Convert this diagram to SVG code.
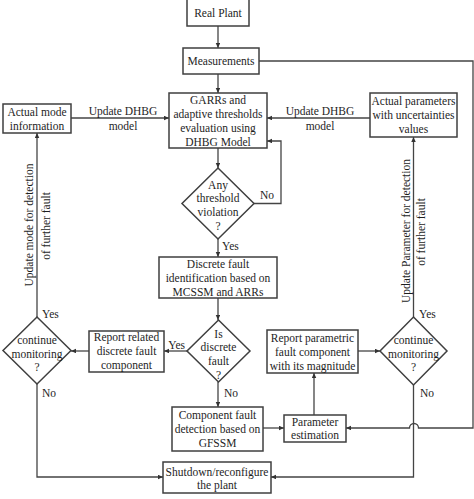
<svg xmlns="http://www.w3.org/2000/svg" width="474" height="499" viewBox="0 0 474 499">
<style>
.box{fill:#fff;stroke:#3f3f3f;stroke-width:1.5}
.ln{fill:none;stroke:#444;stroke-width:1.3}
.t{font-family:"Liberation Serif","Times New Roman",serif;font-size:11.5px;fill:#1e1e1e;text-anchor:middle}
.s{text-anchor:start}
.e{text-anchor:end}
</style>
<defs>
<marker id="ah" markerUnits="userSpaceOnUse" markerWidth="6" markerHeight="5" refX="5" refY="2.25" orient="auto">
<path d="M0,0 L5,2.25 L0,4.5 z" fill="#333"/>
</marker>
</defs>
<rect width="474" height="499" fill="#fff"/>
<g id="connectors">
<path class="ln" d="M218,26 V48" marker-end="url(#ah)"/>
<path class="ln" d="M218,74 V93" marker-end="url(#ah)"/>
<path class="ln" d="M259,61 H473 V428 H418.5 A4.5,4.5 0 0 0 409.5,428 H346" marker-end="url(#ah)"/>
<path class="ln" d="M71,118 H169" marker-end="url(#ah)"/>
<path class="ln" d="M370,118 H267" marker-end="url(#ah)"/>
<path class="ln" d="M218,148 V168" marker-end="url(#ah)"/>
<path class="ln" d="M254,203.5 H281 V141 H267" marker-end="url(#ah)"/>
<path class="ln" d="M218,239 V257" marker-end="url(#ah)"/>
<path class="ln" d="M218,298 V320" marker-end="url(#ah)"/>
<path class="ln" d="M187,351 H164" marker-end="url(#ah)"/>
<path class="ln" d="M89,351 H71" marker-end="url(#ah)"/>
<path class="ln" d="M37,317 V133" marker-end="url(#ah)"/>
<path class="ln" d="M37,384 V477 H163" marker-end="url(#ah)"/>
<path class="ln" d="M218,382 V407" marker-end="url(#ah)"/>
<path class="ln" d="M263,428 H284" marker-end="url(#ah)"/>
<path class="ln" d="M314,415 V373" marker-end="url(#ah)"/>
<path class="ln" d="M358,351 H380" marker-end="url(#ah)"/>
<path class="ln" d="M413.5,317 V137" marker-end="url(#ah)"/>
<path class="ln" d="M413.5,385 V477 H271" marker-end="url(#ah)"/>
<text class="t" x="123" y="115">Update DHBG</text>
<text class="t" x="123" y="130">model</text>
<text class="t" x="320" y="115">Update DHBG</text>
<text class="t" x="320" y="130">model</text>
<text class="t s" x="260" y="199">No</text>
<text class="t s" x="222" y="250">Yes</text>
<text class="t e" x="185" y="349">Yes</text>
<text class="t s" x="224" y="397">No</text>
<text class="t s" x="42" y="318">Yes</text>
<text class="t s" x="42" y="397">No</text>
<text class="t s" x="419" y="318">Yes</text>
<text class="t s" x="420" y="397">No</text>
<text class="t" transform="translate(33,225) rotate(-90)">Update mode for detection</text>
<text class="t" transform="translate(50,226) rotate(-90)">of further fault</text>
<text class="t" transform="translate(410,231) rotate(-90)">Update Parameter for detection</text>
<text class="t" transform="translate(425,232) rotate(-90)">of further fault</text>
</g>
<g id="real-plant">
<rect class="box" x="187" y="-1" width="62" height="27"/>
<text class="t" x="218" y="17">Real Plant</text>
</g>
<g id="measurements">
<rect class="box" x="183" y="48" width="76" height="26"/>
<text class="t" x="221" y="65">Measurements</text>
</g>
<g id="garrs">
<rect class="box" x="169" y="93" width="98" height="55"/>
<text class="t" x="218" y="104">GARRs and</text>
<text class="t" x="218" y="118">adaptive thresholds</text>
<text class="t" x="218" y="132">evaluation using</text>
<text class="t" x="218" y="146">DHBG Model</text>
</g>
<g id="actual-mode">
<rect class="box" x="3" y="104" width="68" height="29"/>
<text class="t" x="37" y="116">Actual mode</text>
<text class="t" x="37" y="130">information</text>
</g>
<g id="actual-params">
<rect class="box" x="370" y="93" width="87" height="44"/>
<text class="t" x="413.5" y="105">Actual parameters</text>
<text class="t" x="413.5" y="119">with uncertainties</text>
<text class="t" x="413.5" y="133">values</text>
</g>
<g id="threshold-violation">
<polygon class="box" points="218,168 254,203.5 218,239 182,203.5"/>
<text class="t" x="218" y="189">Any</text>
<text class="t" x="218" y="202">threshold</text>
<text class="t" x="218" y="216">violation</text>
<text class="t" x="218" y="230">?</text>
</g>
<g id="discrete-identification">
<rect class="box" x="159" y="257" width="118" height="41"/>
<text class="t" x="218" y="268">Discrete fault</text>
<text class="t" x="218" y="282">identification based on</text>
<text class="t" x="218" y="296">MCSSM and ARRs</text>
</g>
<g id="is-discrete">
<polygon class="box" points="218.5,320 250,351 218.5,382 187,351"/>
<text class="t" x="218.5" y="338">Is</text>
<text class="t" x="218.5" y="351">discrete</text>
<text class="t" x="218.5" y="365">fault</text>
<text class="t" x="218.5" y="379">?</text>
</g>
<g id="report-discrete">
<rect class="box" x="89" y="331" width="75" height="41"/>
<text class="t" x="126.5" y="341">Report related</text>
<text class="t" x="126.5" y="355">discrete fault</text>
<text class="t" x="126.5" y="369">component</text>
</g>
<g id="continue-left">
<polygon class="box" points="37,317 71,350.5 37,384 3,350.5"/>
<text class="t" x="37" y="344">continue</text>
<text class="t" x="37" y="358">monitoring</text>
<text class="t" x="37" y="371">?</text>
</g>
<g id="report-parametric">
<rect class="box" x="267" y="330" width="91" height="43"/>
<text class="t" x="312.5" y="342">Report parametric</text>
<text class="t" x="312.5" y="356">fault component</text>
<text class="t" x="312.5" y="370">with its magnitude</text>
</g>
<g id="continue-right">
<polygon class="box" points="413.5,317 447,351 413.5,385 380,351"/>
<text class="t" x="413.5" y="344">continue</text>
<text class="t" x="413.5" y="358">monitoring</text>
<text class="t" x="413.5" y="371">?</text>
</g>
<g id="component-fault">
<rect class="box" x="172" y="407" width="91" height="44"/>
<text class="t" x="217.5" y="419">Component fault</text>
<text class="t" x="217.5" y="433">detection based on</text>
<text class="t" x="217.5" y="447">GFSSM</text>
</g>
<g id="parameter-estimation">
<rect class="box" x="284" y="415" width="62" height="27"/>
<text class="t" x="315" y="426">Parameter</text>
<text class="t" x="315" y="439">estimation</text>
</g>
<g id="shutdown">
<rect class="box" x="163" y="462" width="108" height="31"/>
<text class="t" x="217" y="476">Shutdown/reconfigure</text>
<text class="t" x="217" y="489">the plant</text>
</g>
</svg>
